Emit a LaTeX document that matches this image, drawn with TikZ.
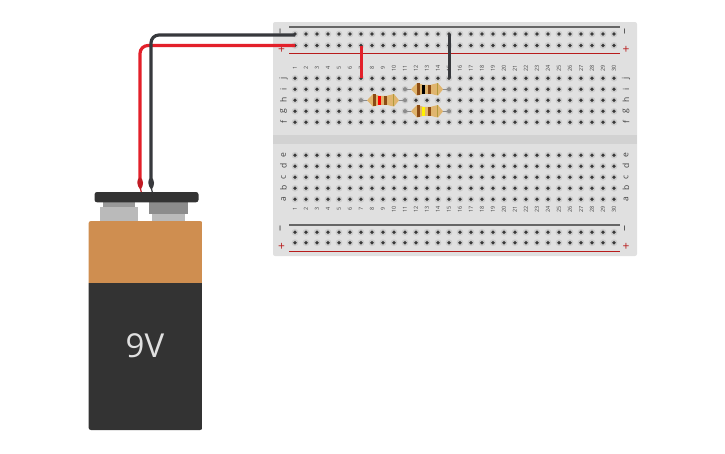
\documentclass[tikz,border=0pt]{standalone}
\usepackage{fontspec}
\setmainfont{Open Sans}
\definecolor{boardgrey}{HTML}{E0E0E0}
\definecolor{groovegrey}{HTML}{D2D2D2}
\definecolor{halogrey}{HTML}{CDCDCD}
\definecolor{holegrey}{HTML}{3A3A3A}
\definecolor{railred}{HTML}{B81C1C}
\definecolor{wirered}{HTML}{E3202A}
\definecolor{wireblack}{HTML}{37393D}
\definecolor{copper}{HTML}{CF8E50}
\definecolor{battblack}{HTML}{333333}
\definecolor{resbody}{HTML}{E0B56E}
\definecolor{resbrown}{HTML}{8B4A14}
\definecolor{resgold}{HTML}{B09A3C}
\tikzset{
  hole/.pic={\fill[halogrey] (0,0) circle (3.4pt); \fill[holegrey] (0,0) circle (1.9pt);},
  tinylabel/.style={font=\fontsize{5.5}{5.5}\selectfont, text=black!75, rotate=90, inner sep=0pt},
  rowlabel/.style={font=\fontsize{8.5}{8.5}\selectfont, text=black!75, rotate=90, inner sep=0pt},
  signlabel/.style={font=\fontsize{12}{12}\selectfont, inner sep=0pt},
  wire/.style={line width=3.2pt, rounded corners=8pt},
  jumper/.style={line width=3pt},
  lead/.style={draw=black!45, line width=1.6pt},
}
% one resistor: x of left lead, y, colour of the second band
\newcommand{\resistor}[4]{
  \draw[lead] (#1,#2) -- +(44,0);
  \fill[black!45] (#1,#2) circle (2pt) (#1+44,#2) circle (2pt);
  \fill[resbody] (#1+6,#2) -- (#1+12,#2-6.3) .. controls (#1+14,#2-6.5) and (#1+16,#2-4.5) .. (#1+18,#2-4.5)
    -- (#1+26,#2-4.5) .. controls (#1+29,#2-4.5) and (#1+30,#2-6.5) .. (#1+33,#2-6.3) -- (#1+38,#2)
    -- (#1+33,#2+6.3) .. controls (#1+30,#2+6.5) and (#1+29,#2+4.5) .. (#1+26,#2+4.5)
    -- (#1+18,#2+4.5) .. controls (#1+16,#2+4.5) and (#1+14,#2+6.5) .. (#1+12,#2+6.3) -- cycle;
  \fill[resbrown] (#1+11.6,#2-6) rectangle +(3,12);
  \fill[#3] (#1+17,#2-4.5) rectangle +(3.2,9);
  \fill[#4] (#1+23,#2-4.5) rectangle +(3,9);
  \fill[resgold] (#1+31.6,#2-6) rectangle +(1.4,12);
}
\begin{document}
\begin{tikzpicture}[x=1pt, y=-1pt]
\useasboundingbox (0,0) rectangle (725,453);

% Breadboard
\fill[boardgrey, rounded corners=2pt] (273,22) rectangle (637,256);
\fill[groovegrey] (273,135) rectangle (637,144);
\draw[white!88!black, line width=0.7pt] (273,62) -- (637,62);
\draw[white!88!black, line width=0.7pt] (273,216) -- (637,216);

% Rail lines
\draw[black!60, line width=1.3pt] (289,27) -- (620,27);
\draw[railred, line width=0.9pt] (289,53) -- (620,53);
\draw[black!60, line width=1.3pt] (289,225) -- (620,225);
\draw[railred, line width=0.9pt] (289,251.5) -- (620,251.5);

% Rail signs
\foreach \sx/\sn in {281.5/l, 626/r}{
  \node[signlabel, rotate=90, text=black!70] (minustop\sn) at (\sx,31) {–};
  \node[signlabel, rotate=90, text=black!70] (minusbot\sn) at (\sx,228) {–};
  \node[signlabel, text=railred] (plustop\sn) at (\sx,50) {+};
  \node[signlabel, text=railred] (plusbot\sn) at (\sx,247) {+};
}

% Holes
\foreach \c in {0,...,29}{
  \foreach \ry in {34,45.5,78.3,89.3,100.3,111.3,122.3,155.3,166.3,177.3,188.3,199.3,232.3,242.7}{
    \pic at ({295+11*\c},\ry) {hole};
  }
}

% Column numbers
\foreach \c in {1,...,30}{
  \node[tinylabel] (numtop\c) at ({284+11*\c},68) {\c};
  \node[tinylabel] (numbot\c) at ({284+11*\c},209) {\c};
}

% Row letters
\foreach \rl/\ry in {j/78.3,i/89.3,h/100.3,g/111.3,f/122.3,e/155.3,d/166.3,c/177.3,b/188.3,a/199.3}{
  \node[rowlabel] (left\rl) at (283.5,\ry) {\rl};
  \node[rowlabel] (right\rl) at (626,\ry) {\rl};
}

% Resistors
\resistor{361}{100.3}{red}{resbrown}
\resistor{405}{89.3}{black}{resbrown}
\resistor{405}{111.3}{yellow}{resbrown}

% Jumpers
\coordinate (redrail) at (361,45.5);
\coordinate (redrow) at (361,78.3);
\coordinate (blackrail) at (449.3,34);
\coordinate (blackrow) at (449.3,78.3);
\draw[jumper, wirered] (redrail) -- (redrow);
\draw[jumper, wireblack] (blackrail) -- (blackrow);

% Battery
\begin{scope}
  \clip[rounded corners=2.5pt] (88.5,221) rectangle (202.5,430);
  \fill[copper] (88,220) rectangle (203,283);
  \fill[battblack] (88,283) rectangle (203,431);
\end{scope}
\node[inner sep=0pt, text=black!12, font=\fontsize{33}{33}\selectfont] (volt) at (145,346) {9V};

% Terminals
\fill[black!40] (102.7,202) rectangle (135,207);
\fill[black!27] (99.7,207) rectangle (138,221);
\fill[black!45] (149,202) rectangle (187.7,214);
\fill[black!27] (151.7,214) rectangle (185,221);
\fill[battblack, rounded corners=2.5pt] (94.5,192) rectangle (198.5,202.3);

% Battery wires
\coordinate (redpin) at (140,180);
\coordinate (blackpin) at (151,180);
\coordinate (redend) at (295,45.5);
\coordinate (blackend) at (295,35);
\draw[wire, wirered] (redend) -- (140,45.5) -- (redpin);
\draw[wire, wireblack] (blackend) -- (151,35) -- (blackpin);

% Pins
\fill[wirered!85!black] (140,177) .. controls (144,180) and (144,185) .. (140.5,190) .. controls (136.5,185) and (136,180) .. cycle;
\draw[wirered!85!black, line width=1.2pt] (140.5,189) -- (141.3,192);
\fill[wireblack] (151,177) .. controls (155,180) and (155,185) .. (151.5,190) .. controls (147.5,185) and (147,180) .. cycle;
\draw[wireblack, line width=1.2pt] (151.5,189) -- (152.3,192);

\end{tikzpicture}
\end{document}
